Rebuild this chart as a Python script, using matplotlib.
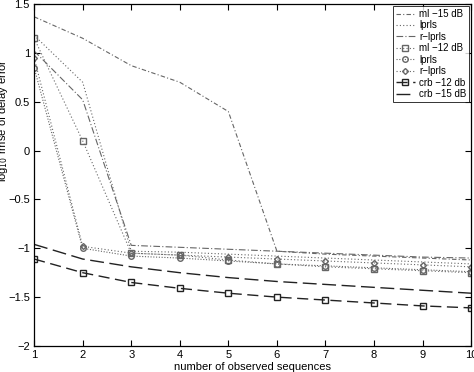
import matplotlib
matplotlib.use("Agg")
from matplotlib import pyplot as plt

plt.rcParams['font.family'] = ['Liberation Sans', 'DejaVu Sans']

n_seq = [1, 2, 3, 4, 5, 6, 7, 8, 9, 10]

# -15 dB curves
ml_15 = [1.37, 1.15, 0.87, 0.70, 0.40, -1.03, -1.06, -1.08, -1.10, -1.12]
lprls_15 = [1.18, 0.70, -1.03, -1.04, -1.06, -1.08, -1.10, -1.12, -1.14, -1.16]
rlprls_15 = [1.02, 0.52, -0.97, -0.99, -1.01, -1.03, -1.05, -1.07, -1.09, -1.10]

# -12 dB curves
ml_12 = [1.15, 0.10, -1.05, -1.07, -1.12, -1.16, -1.19, -1.21, -1.23, -1.25]
lprls_12 = [0.85, -1.00, -1.08, -1.10, -1.13, -1.16, -1.18, -1.20, -1.22, -1.24]
rlprls_12 = [0.95, -0.98, -1.05, -1.07, -1.09, -1.11, -1.13, -1.15, -1.17, -1.19]

# Cramer-Rao bounds
crb_12 = [-1.11, -1.25, -1.35, -1.41, -1.46, -1.50, -1.53, -1.56, -1.59, -1.61]
crb_15 = [-0.96, -1.11, -1.19, -1.25, -1.30, -1.34, -1.37, -1.40, -1.43, -1.46]

fig = plt.figure(figsize=(4.74, 3.72), dpi=100)
ax = fig.add_axes([0.072, 0.070, 0.922, 0.919])

c = '#666666'
ax.plot(n_seq, ml_15, color=c, ls=(0, (4, 2, 1, 2)), lw=0.8, label='ml \u221215 dB')
ax.plot(n_seq, lprls_15, color=c, ls=(0, (1, 2)), lw=0.8, label='lprls')
ax.plot(n_seq, rlprls_15, color=c, ls=(0, (6, 2, 1, 2)), lw=0.8, label='r\u2212lprls')
ax.plot(n_seq, ml_12, color=c, ls=(0, (1, 2)), lw=0.8, marker='s', ms=4,
        mfc='none', label='ml \u221212 dB')
ax.plot(n_seq, lprls_12, color=c, ls=(0, (1, 1.5)), lw=0.8, marker='o', ms=4,
        mfc='none', label='lprls')
ax.plot(n_seq, rlprls_12, color=c, ls=(0, (1, 2)), lw=0.8, marker='D', ms=3,
        mfc='none', label='r\u2212lprls')
ax.plot(n_seq, crb_12, color='#222222', ls=(0, (8, 4)), lw=1.0, marker='s', ms=4,
        mfc='none', label='crb \u221212 db')
ax.plot(n_seq, crb_15, color='#222222', ls=(0, (10, 4)), lw=1.0, label='crb \u221215 dB')

ax.set_xlim(1, 10)
ax.set_ylim(-2, 1.5)
ax.set_xticks(n_seq)
ax.set_yticks([-2, -1.5, -1, -0.5, 0, 0.5, 1, 1.5])
ax.set_yticklabels(['\u22122', '\u22121.5', '\u22121', '\u22120.5', '0', '0.5', '1', '1.5'])
ax.tick_params(direction='in', top=True, right=True, labelsize=8, length=4, pad=3)
for s in ax.spines.values():
    s.set_linewidth(0.9)

ax.set_xlabel('number of observed sequences', fontsize=8, labelpad=1)
ax.set_ylabel('log$_{10}$ rmse of delay error', fontsize=8, labelpad=1)
ax.yaxis.set_label_coords(-0.055, 0.66)

leg = ax.legend(loc='upper right', fontsize=7, handlelength=2.0, labelspacing=0.15,
                borderpad=0.3, handletextpad=0.4, frameon=True, fancybox=False,
                borderaxespad=0.2)
leg.get_frame().set_edgecolor('black')
leg.get_frame().set_linewidth(0.7)

fig.savefig('out.png', dpi=100)
